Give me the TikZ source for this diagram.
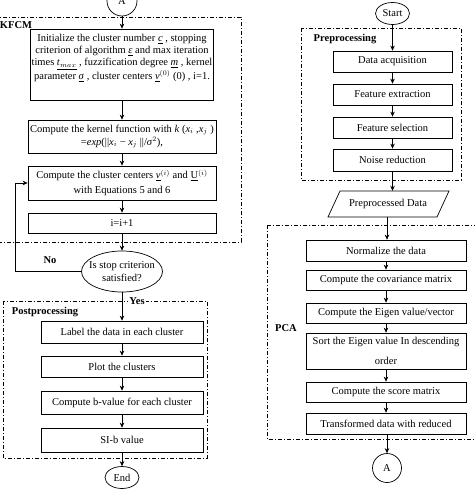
\documentclass[tikz,border=0pt]{standalone}
\usepackage{fontspec}
\setmainfont{Liberation Serif}
\usetikzlibrary{arrows.meta,shapes.geometric}
\newcommand{\fsz}{\fontsize{10.5}{12}\selectfont}
\begin{document}
\begin{tikzpicture}[x=1pt,y=-1pt,
  proc/.style={draw, line width=0.7pt, align=center, inner sep=1pt, font=\fsz},
  term/.style={draw, ellipse, line width=0.7pt, inner sep=0pt, font=\fsz},
  conn/.style={draw, circle, line width=0.7pt, inner sep=0pt, minimum size=30pt, font=\fsz},
  frame/.style={draw, line width=0.7pt, dash pattern=on 4pt off 2pt on 1pt off 2pt},
  lab/.style={font=\bfseries\fsz, inner sep=1pt},
  txt/.style={font=\fsz, align=center, inner sep=0pt},
  arr/.style={-{Stealth[length=5pt,width=4.5pt]}, line width=0.7pt}]
\useasboundingbox (0,0) rectangle (474,489);
\fill[white] (0,0) rectangle (474,489);

% ---------- frames ----------
\draw[frame] (-2,17) rectangle (241,242);
\draw[frame] (3,301) rectangle (207,458);
\draw[frame] (301,28) rectangle (461,180);
\draw[frame] (267,225) rectangle (478,439);

% ---------- frame labels ----------
\node[lab] (lkfcm) at (16,25) {KFCM};
\node[lab] (lpost) at (45,312) {Postprocessing};
\node[lab] (lpre) at (345,39) {Preprocessing};
\node[lab] (lpca) at (286,328) {PCA};

% ---------- left column ----------
\node[conn] (A1) at (122,1) {A};
\node[proc, minimum width=182pt, minimum height=71pt] (b1) at (122,64.5)
 {Initialize the cluster number \underline{\textit{c}} , stopping\\
  criterion of algorithm \underline{\textit{ε}} and max iteration\\
  times \underline{\textit{t}$_{max}$} , fuzzification degree \underline{\textit{m}} , kernel\\
  parameter \underline{\textit{σ}} , cluster centers \underline{\textit{v}}$^{(0)}$ (0) , i=1.\\[3pt]\mbox{}};
\node[proc, minimum width=188pt, minimum height=33pt, font=\fontsize{10.5}{13}\selectfont] (b2) at (122,136.5)
 {Compute the kernel function with \textit{k} (\textit{x}$_i$ ,\textit{x}$_j$ )\\
  =\textit{exp}(||\textit{x}$_i$ − \textit{x}$_j$ ||/\textit{σ}$^2$),};
\node[proc, minimum width=188pt, minimum height=34pt, font=\fontsize{10.5}{15}\selectfont] (b3) at (122,183)
 {Compute the cluster centers \underline{\textit{v}}$^{(i)}$ and \underline{U}$^{(i)}$\\
  with Equations 5 and 6};
\node[proc, minimum width=188pt, minimum height=20pt] (b4) at (122,223) {i=i+1};
\node[term, minimum width=81pt, minimum height=41pt] (dec) at (122,271.5) {};
\node[txt, font=\fontsize{10.5}{13}\selectfont] (dect) at (dec) {Is stop criterion\\satisfied?};
\node[proc, minimum width=162pt, minimum height=22pt] (pp1) at (122,332) {Label the data in each cluster};
\node[proc, minimum width=162pt, minimum height=21pt] (pp2) at (122,366.5) {Plot the clusters};
\node[proc, minimum width=162pt, minimum height=23pt] (pp3) at (122,402.5) {Compute b-value for each cluster};
\node[proc, minimum width=162pt, minimum height=24pt] (pp4) at (122,440) {SI-b value};
\node[term, minimum width=34pt, minimum height=22pt] (end) at (122,477.5) {End};
\node[lab, fill=white] (lyes) at (137,301) {Yes};
\node[lab] (lno) at (50,260) {No};
\coordinate (loopc) at (15,183);

\draw[arr] (A1) -- (b1);
\draw[arr] (b1) -- (b2);
\draw[arr] (b2) -- (b3);
\draw[arr] (b3) -- (b4);
\draw[arr] (b4) -- (dec);
\draw[arr] (dec) -- (pp1);
\draw[arr] (pp1) -- (pp2);
\draw[arr] (pp2) -- (pp3);
\draw[arr] (pp3) -- (pp4);
\draw[arr] (pp4) -- (end);
\draw[arr] (dec.west) -| (loopc) -- (b3.west);

% ---------- right column ----------
\node[term, minimum width=34pt, minimum height=22pt] (start) at (392.5,13.5) {Start};
\node[proc, minimum width=119pt, minimum height=21pt] (r1) at (392.5,61.5) {Data acquisition};
\node[proc, minimum width=119pt, minimum height=21pt] (r2) at (392.5,94.5) {Feature extraction};
\node[proc, minimum width=119pt, minimum height=21pt] (r3) at (392.5,127.5) {Feature selection};
\node[proc, minimum width=119pt, minimum height=22pt] (r4) at (392.5,160) {Noise reduction};
\node[txt, minimum width=100pt, minimum height=26pt] (para) at (388,204) {Preprocessed Data};
\draw[line width=0.7pt] (328,217) -- (340,191) -- (449,191) -- (437,217) -- cycle;
\node[proc, minimum width=160pt, minimum height=21pt] (p1) at (386,250.5) {Normalize the data};
\node[proc, minimum width=160pt, minimum height=20pt] (p2) at (386,280) {Compute the covariance matrix};
\node[proc, minimum width=160pt, minimum height=20pt] (p3) at (386,313) {Compute the Eigen value/vector};
\node[proc, minimum width=160pt, minimum height=36pt, font=\fontsize{10.5}{20}\selectfont] (p4) at (386,351) {Sort the Eigen value In descending\\order};
\node[proc, minimum width=160pt, minimum height=20pt] (p5) at (386,392) {Compute the score matrix};
\node[proc, minimum width=160pt, minimum height=21pt] (p6) at (386,423.5) {Transformed data with reduced};
\node[conn, minimum size=29pt] (A2) at (387,468) {A};

\draw[arr] (start) -- (r1);
\draw[arr] (r1) -- (r2);
\draw[arr] (r2) -- (r3);
\draw[arr] (r3) -- (r4);
\draw[arr] (r4.south) -- (r4.south |- para.north);
\draw[arr] (para.south -| p1.north) ++(1,0) -- ([xshift=1pt]p1.north);
\draw[arr] (p1) -- (p2);
\draw[arr] (p2) -- (p3);
\draw[arr] (p3) -- (p4);
\draw[arr] (p4) -- (p5);
\draw[arr] (p5) -- (p6);
\draw[arr] ([xshift=1pt]p6.south) -- (A2);
\end{tikzpicture}
\end{document}
